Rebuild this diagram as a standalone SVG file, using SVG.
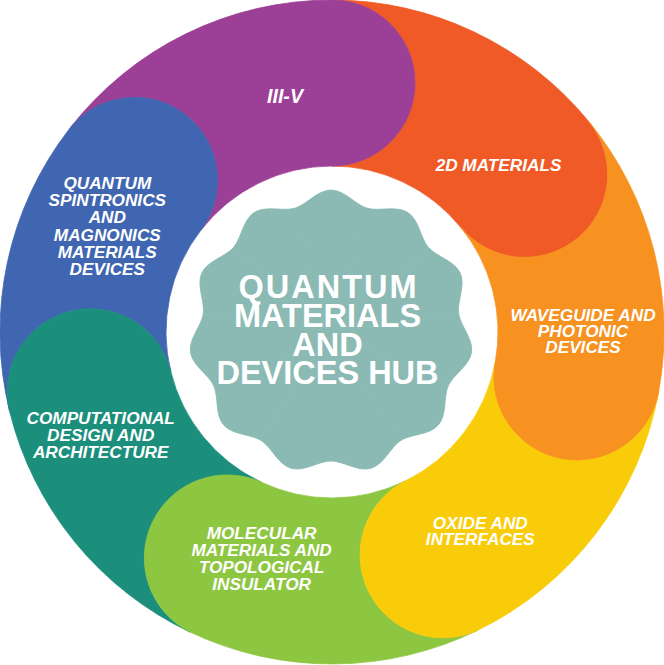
<svg xmlns="http://www.w3.org/2000/svg" xmlns:xlink="http://www.w3.org/1999/xlink" width="664" height="665" viewBox="0 0 664 665">
<style>
.seg{stroke-width:0.8;stroke-linejoin:round}
.lbl{font-family:"Liberation Sans",Arial,sans-serif;font-weight:bold;font-style:italic;font-size:17.2px;fill:#fff;text-anchor:middle}
.hub{font-family:"Liberation Sans",Arial,sans-serif;font-weight:bold;font-size:32.5px;fill:#fff;text-anchor:middle}
.badge{fill:#8ABAB3;stroke:#8ABAB3;stroke-width:0.8;stroke-linejoin:round}
</style>
<defs>
<path id="wedge" d="M0,0 L-36.34,-123.77 C-24.56,-127.23 -13.52,-142 0,-142 C13.52,-142 24.56,-127.23 36.34,-123.77 Z"/>
</defs>
<rect width="664" height="665" fill="#fff"/>
<g id="connectors"></g>
<g id="node-2d">
<path class="seg" fill="#F05A26" stroke="#F05A26" d="M588.9,121.7 A332,332 0 0 0 332,0 A83,83 0 0 1 332,166 A166,166 0 0 1 460.4,226.9 A83,83 0 0 0 588.9,121.7 Z"/>
<text class="lbl" x="498.5" y="170.7">2D MATERIALS</text>
</g>
<g id="node-3-5">
<path class="seg" fill="#9C3F96" stroke="#9C3F96" d="M332,0 A332,332 0 0 0 69.7,128.5 A83,83 0 0 1 200.8,230.3 A166,166 0 0 1 332,166 A83,83 0 0 0 332,0 Z"/>
<text class="lbl" x="285" y="103" style="font-size:19.7px">III-V</text>
</g>
<g id="node-spin">
<path class="seg" fill="#4066B1" stroke="#4066B1" d="M69.7,128.5 A332,332 0 0 0 9.7,411.7 A83,83 0 0 1 170.9,371.9 A166,166 0 0 1 200.8,230.3 A83,83 0 0 0 69.7,128.5 Z"/>
<text class="lbl"><tspan x="107.3" y="189.3">QUANTUM</tspan><tspan x="107.3" y="206.3">SPINTRONICS</tspan><tspan x="107.3" y="223.3">AND</tspan><tspan x="107.3" y="240.5">MAGNONICS</tspan><tspan x="107.3" y="257.8">MATERIALS</tspan><tspan x="107.3" y="275">DEVICES</tspan></text>
</g>
<g id="node-comp">
<path class="seg" fill="#1B8F7B" stroke="#1B8F7B" d="M9.7,411.7 A332,332 0 0 0 190.1,632.1 A83,83 0 0 1 261.1,482.1 A166,166 0 0 1 170.9,371.9 A83,83 0 0 0 9.7,411.7 Z"/>
<text class="lbl"><tspan x="100.7" y="423.7">COMPUTATIONAL</tspan><tspan x="100.7" y="440.8">DESIGN AND</tspan><tspan x="100.7" y="458">ARCHITECTURE</tspan></text>
</g>
<g id="node-mol">
<path class="seg" fill="#8DC641" stroke="#8DC641" d="M190.1,632.1 A332,332 0 0 0 478.1,630.1 A83,83 0 0 1 405,481.1 A166,166 0 0 1 261.1,482.1 A83,83 0 0 0 190.1,632.1 Z"/>
<text class="lbl"><tspan x="261.6" y="538.7">MOLECULAR</tspan><tspan x="261.6" y="555.8">MATERIALS AND</tspan><tspan x="261.6" y="572.8">TOPOLOGICAL</tspan><tspan x="261.6" y="590">INSULATOR</tspan></text>
</g>
<g id="node-oxide">
<path class="seg" fill="#F9CC0A" stroke="#F9CC0A" d="M478.1,630.1 A332,332 0 0 0 658.6,391.9 A83,83 0 0 1 495.3,362 A166,166 0 0 1 405,481.1 A83,83 0 0 0 478.1,630.1 Z"/>
<text class="lbl"><tspan x="480.3" y="528.7">OXIDE AND</tspan><tspan x="480.3" y="545.3">INTERFACES</tspan></text>
</g>
<g id="node-wave">
<path class="seg" fill="#F79120" stroke="#F79120" d="M658.6,391.9 A332,332 0 0 0 588.9,121.7 A83,83 0 0 1 460.4,226.9 A166,166 0 0 1 495.3,362 A83,83 0 0 0 658.6,391.9 Z"/>
<text class="lbl"><tspan x="583" y="320.7">WAVEGUIDE AND</tspan><tspan x="583" y="337">PHOTONIC</tspan><tspan x="583" y="353.3">DEVICES</tspan></text>
</g>
<g id="node-hub">
<g transform="translate(331,332)">
<use xlink:href="#wedge" class="badge"/>
<use xlink:href="#wedge" class="badge" transform="rotate(32.7273)"/>
<use xlink:href="#wedge" class="badge" transform="rotate(65.4545)"/>
<use xlink:href="#wedge" class="badge" transform="rotate(98.1818)"/>
<use xlink:href="#wedge" class="badge" transform="rotate(130.9091)"/>
<use xlink:href="#wedge" class="badge" transform="rotate(163.6364)"/>
<use xlink:href="#wedge" class="badge" transform="rotate(196.3636)"/>
<use xlink:href="#wedge" class="badge" transform="rotate(229.0909)"/>
<use xlink:href="#wedge" class="badge" transform="rotate(261.8182)"/>
<use xlink:href="#wedge" class="badge" transform="rotate(294.5455)"/>
<use xlink:href="#wedge" class="badge" transform="rotate(327.2727)"/>
</g>
<text class="hub"><tspan x="327.5" y="298.3" textLength="178" lengthAdjust="spacing">QUANTUM</tspan><tspan x="327.5" y="326.9">MATERIALS</tspan><tspan x="327.5" y="355.5">AND</tspan><tspan x="327.5" y="384.1">DEVICES HUB</tspan></text>
</g>
</svg>
